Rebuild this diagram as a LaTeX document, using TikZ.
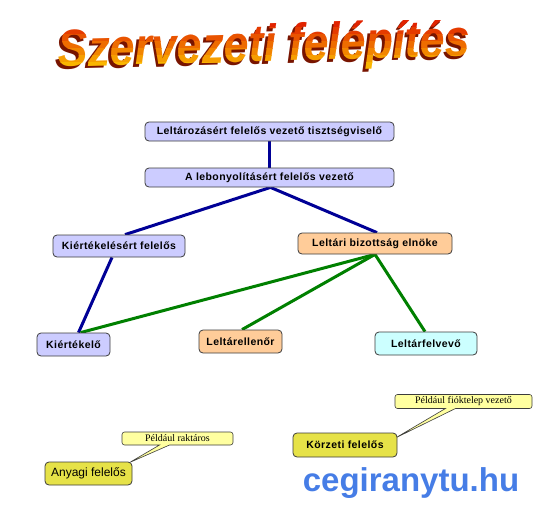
\documentclass[tikz,border=0pt]{standalone}
\usepackage{fontspec}
\setmainfont{Liberation Sans}
\newfontfamily\boxfont[LetterSpace=4]{Liberation Sans}
\newfontfamily\titlefont{Liberation Sans}
\newfontfamily\notefont{Liberation Serif}
\usetikzlibrary{calc,shapes.callouts}
\pgfdeclarelayer{background}
\pgfsetlayers{background,main}
\definecolor{lav}{RGB}{204,204,255}
\definecolor{peach}{RGB}{255,204,153}
\definecolor{cyanbox}{RGB}{204,255,255}
\definecolor{yelbox}{RGB}{230,226,72}
\definecolor{notebg}{RGB}{255,255,160}
\definecolor{navy}{RGB}{0,0,150}
\definecolor{grn}{RGB}{0,128,0}
\definecolor{edge}{RGB}{60,60,60}
\definecolor{webblue}{RGB}{70,125,230}
\definecolor{ttop}{RGB}{225,35,0}
\definecolor{tbot}{RGB}{255,210,0}
\definecolor{tshadow}{RGB}{120,20,0}
\newcommand{\titletxt}{\scalebox{0.86}[1]{\titlefont\bfseries\itshape\fontsize{52}{52}\selectfont Szervezeti felépítés}}
\tikzset{
  orgbox/.style={draw=edge, line width=0.8pt, rounded corners=4pt, inner sep=0pt,
    font=\boxfont\bfseries\fontsize{10.5}{12}\selectfont, text=black},
  bluelink/.style={navy, line width=3pt},
  greenlink/.style={grn, line width=3pt},
  note/.style={rectangle callout, draw=edge, line width=0.6pt, fill=notebg, rounded corners=2.5pt,
    inner sep=0pt, font=\notefont\fontsize{10}{12}\selectfont, callout pointer width=10pt},
  titlelayer/.style={anchor=base west, inner sep=0pt, rotate=1.5}
}
\begin{document}
\begin{tikzpicture}[x=1pt,y=-1pt]
\useasboundingbox (0,0) rectangle (550,507);
% title: dark extrusion, then banded gradient face
\node[titlelayer, text=tshadow] (tshadow) at (55.5,69.5) {\titletxt};
\foreach \i in {0,...,7}{
  \pgfmathsetmacro{\pct}{\i*14}
  \begin{scope}
    \clip (0,{20+\i*7}) rectangle (550,{27+\i*7});
    \colorlet{bandc}{tbot!\pct!ttop}
    \node[titlelayer, text=bandc] (tband\i) at (58,67) {\titletxt};
  \end{scope}
}
% boxes
\node[orgbox, fill=lav, minimum width=249pt, minimum height=19pt] (b1) at (269.5,131.5) {Leltározásért felelős vezető tisztségviselő};
\node[orgbox, fill=lav, minimum width=249pt, minimum height=19pt] (b2) at (269.5,177.5) {A lebonyolításért felelős vezető};
\node[orgbox, fill=lav, minimum width=132pt, minimum height=22pt] (kier) at (119,246) {Kiértékelésért felelős};
\node[orgbox, fill=peach, minimum width=154pt, minimum height=21pt] (elnok) at (375,243.5) {Leltári bizottság elnöke};
\node[orgbox, fill=lav, minimum width=73pt, minimum height=23pt] (kiert) at (73.5,344.5) {Kiértékelő};
\node[orgbox, fill=peach, minimum width=83pt, minimum height=23pt] (ellen) at (240.5,341.5) {Leltárellenőr};
\node[orgbox, fill=cyanbox, minimum width=102pt, minimum height=23pt] (felv) at (426,343.5) {Leltárfelvevő};
\node[orgbox, fill=yelbox, minimum width=87pt, minimum height=23pt, font=\fontsize{12}{14}\selectfont] (anyagi) at (88.5,473.5) {Anyagi felelős};
\node[orgbox, fill=yelbox, minimum width=104pt, minimum height=24pt] (korzet) at (345,445) {Körzeti felelős};
% notes
\node[note, minimum width=111pt, minimum height=13pt, callout absolute pointer={($(anyagi.north east)+(-3,1)$)}] (n1) at (177.5,438.5) {Például raktáros};
\node[note, minimum width=137pt, minimum height=14pt, callout absolute pointer={($(korzet.east)+(-2,-7)$)}] (n2) at (463.5,401.5) {Például fióktelep vezető};
% web address
\node[anchor=base, inner sep=0pt, text=webblue, font=\bfseries\fontsize{33}{36}\selectfont] (web) at (411,491) {cegiranytu.hu};
% connectors
\begin{pgfonlayer}{background}
\draw[bluelink] (b1.south) -- (b2.north);
\draw[bluelink] ($(b2.south)+(1,0)$) -- ($(kier.north)+(6,0)$);
\draw[bluelink] ($(b2.south)+(1,0)$) -- ($(elnok.north)+(2,0)$);
\draw[bluelink] ($(kier.south)+(-7,0)$) -- ($(kiert.north)+(5,0)$);
\draw[greenlink] (elnok.south) -- ($(kiert.north)+(7,0)$);
\draw[greenlink] (elnok.south) -- ($(ellen.north)+(1.5,0)$);
\draw[greenlink] (elnok.south) -- ($(felv.north)+(-1,0)$);
\end{pgfonlayer}
\end{tikzpicture}
\end{document}
